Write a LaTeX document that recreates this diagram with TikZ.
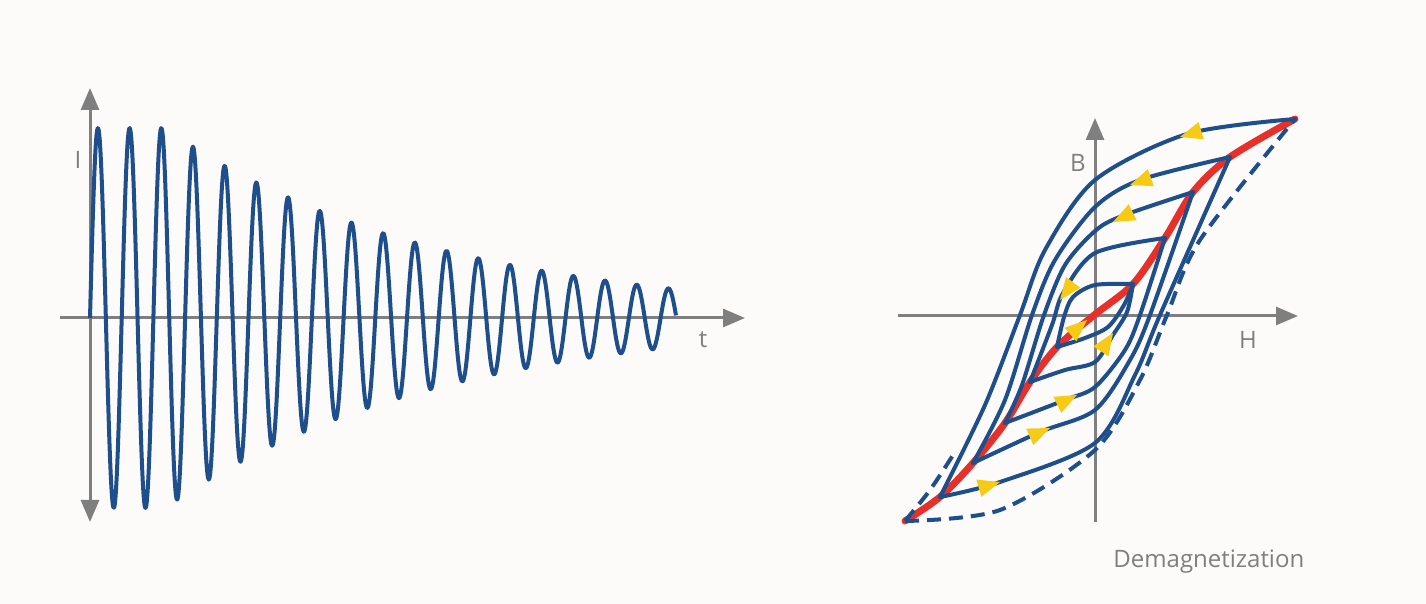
\documentclass[tikz,border=0pt]{standalone}
\usepackage{fontspec}
\setmainfont{Open Sans}
\usetikzlibrary{arrows.meta}
\definecolor{bg}{HTML}{FCFBF9}
\definecolor{wave}{HTML}{1F4E8C}
\definecolor{axisgray}{HTML}{7F7F7F}
\definecolor{redc}{HTML}{E8302A}
\definecolor{yel}{HTML}{F7CB15}
\tikzset{
  axisline/.style={draw=axisgray,line width=1.5pt,-{Triangle[length=11pt,width=9pt]}},
  lbl/.style={text=axisgray,font=\fontsize{12}{14}\selectfont,inner sep=0pt},
  loopline/.style={draw=wave,line width=2pt,line cap=round},
  ymark/.style={fill=yel},
}
\begin{document}
\begin{tikzpicture}[x=0.5pt,y=-0.5pt]
\fill[bg] (0,0) rectangle (1426,604);
\useasboundingbox (0,0) rectangle (1426,604);
% left plot
\coordinate (ta) at (90,88);
\coordinate (tb) at (90,522);
\coordinate (xl) at (60,318);
\coordinate (xr) at (745,318);
\draw[axisline,{Triangle[length=11pt,width=9pt]}-{Triangle[length=11pt,width=9pt]}] (ta) -- (tb);
\draw[axisline] (xl) -- (xr);
\node[lbl] (I) at (78,160) {I};
\node[lbl] (t) at (703,340) {t};
\draw[wave,line width=2pt,line join=round] plot[domain=90:676,samples=900,smooth]
  (\x,{318-190*exp(-0.0037*max(\x-165,0))*sin(11.3565*(\x-90))});
% right plot
\coordinate (ba) at (1095,522);
\coordinate (bb) at (1095,118);
\coordinate (hl) at (898,316);
\coordinate (hr) at (1298,316);
\draw[axisline] (ba) -- (bb);
\draw[axisline] (hl) -- (hr);
\node[lbl] (B) at (1078,163) {B};
\node[lbl] (H) at (1248,340) {H};
\node[lbl,anchor=west] (D) at (1113,562) {Demagnetization};
% tips
\coordinate (U1) at (1295,119);
\coordinate (U2) at (1230,157);
\coordinate (U3) at (1193,192);
\coordinate (U4) at (1165,238);
\coordinate (U5) at (1133,284);
\coordinate (L1) at (905,521);
\coordinate (L2) at (940,497);
\coordinate (L3) at (973,463);
\coordinate (L4) at (1005,423);
\coordinate (L5) at (1030,382);
\coordinate (L6) at (1057,347);
% red curve
\draw[redc,line width=3.5pt,line cap=round] plot[smooth] coordinates{(L1) (L2) (L3) (L4) (L5) (L6) (1093,316) (U5) (U4) (U3) (U2) (U1)};
% dashed initial branch
\draw[loopline,line cap=butt,dash pattern=on 7pt off 4pt] plot[smooth] coordinates{(L1) (1000,510) (1095,450) (1140,380) (1167,315) (1200,240) (U1)};
\draw[loopline,line cap=butt,dash pattern=on 7pt off 4pt] plot[smooth] coordinates{(L1) (930,490) (955,452)};
% decreasing branches
\draw[loopline] plot[smooth] coordinates{(U1) (1187,134) (1095,180) (1045,250) (1020,315) (985,405) (L2)};
\draw[loopline] plot[smooth] coordinates{(U2) (1140,180) (1095,207) (1055,260) (1032,315) (1005,400) (L3)};
\draw[loopline] plot[smooth] coordinates{(U3) (1122,216) (1095,231) (1065,265) (1044,315) (1022,385) (L4)};
\draw[loopline] plot[smooth] coordinates{(U4) (1095,253) (1063,293) (1052,325) (L5)};
\draw[loopline] plot[smooth] coordinates{(U5) (1095,285) (1073,297) (1064,317) (L6)};
% increasing branches
\draw[loopline] plot[smooth] coordinates{(L2) (1000,482) (1095,443) (1135,375) (1160,315) (U2)};
\draw[loopline] plot[smooth] coordinates{(L3) (1040,432) (1095,410) (1130,360) (1150,315) (U3)};
\draw[loopline] plot[smooth] coordinates{(L4) (1065,400) (1095,387) (1125,350) (1140,315) (U4)};
\draw[loopline] plot[smooth] coordinates{(L5) (1065,370) (1095,362) (1113,335) (1127,312) (U5)};
\draw[loopline] plot[smooth] coordinates{(L6) (1085,338) (1108,327) (1124,305) (U5)};
% yellow direction marks
\fill[ymark] (1180,137) -- (1198.5,122.1) -- (1203.7,139.3) -- cycle;
\fill[ymark] (1130,185) -- (1147.8,169.2) -- (1153.8,186.2) -- cycle;
\fill[ymark] (1113,222) -- (1128.7,204.2) -- (1136.7,220.2) -- cycle;
\fill[ymark] (1060,300) -- (1066,277) -- (1080.4,287.8) -- cycle;
\fill[ymark] (1087,320) -- (1076.4,341.3) -- (1064.6,327.8) -- cycle;
\fill[ymark] (1113,333) -- (1108.4,356.3) -- (1093.4,346.3) -- cycle;
\fill[ymark] (1077,395) -- (1061.3,412.8) -- (1053.3,396.8) -- cycle;
\fill[ymark] (1050,428) -- (1033.4,445.1) -- (1026.2,428.6) -- cycle;
\fill[ymark] (1000,482) -- (981.4,496.8) -- (976.4,479.6) -- cycle;
\end{tikzpicture}
\end{document}
